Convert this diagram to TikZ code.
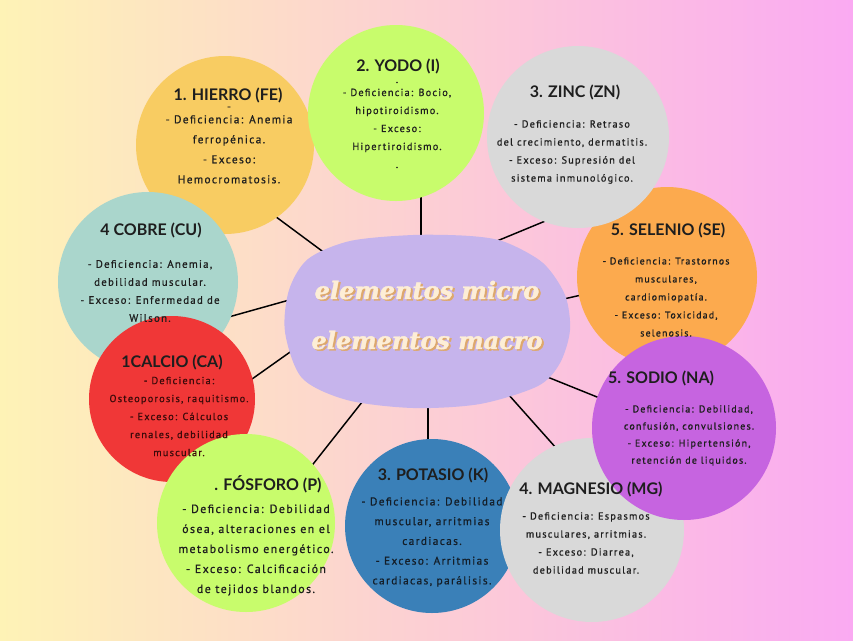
\documentclass[tikz,border=0pt]{standalone}
\usepackage{fontspec}
\newfontfamily\titulofont{Lato}
\newfontfamily\textofont[LetterSpace=12,FakeBold=0.8]{PT Sans}
\newfontfamily\centrofont[FakeBold=1.6]{DejaVu Serif}

\definecolor{fondoA}{RGB}{254,243,182}
\definecolor{fondoB}{RGB}{253,200,212}
\definecolor{fondoC}{RGB}{250,170,242}
\definecolor{tinta}{RGB}{30,30,30}
\definecolor{hierroC}{RGB}{248,204,98}
\definecolor{limaC}{RGB}{200,252,108}
\definecolor{grisC}{RGB}{217,217,217}
\definecolor{cobreC}{RGB}{170,214,204}
\definecolor{selenioC}{RGB}{252,170,78}
\definecolor{calcioC}{RGB}{240,55,55}
\definecolor{sodioC}{RGB}{198,100,224}
\definecolor{potasioC}{RGB}{58,128,184}
\definecolor{blobC}{RGB}{198,180,236}
\definecolor{crema}{RGB}{253,238,214}
\definecolor{sombra}{RGB}{222,168,108}

\begin{document}
\begin{tikzpicture}[x=0.75pt,y=-0.75pt,
  circ/.style={circle,inner sep=0pt,minimum size=#1*1.5pt},
  titulo/.style={font=\titulofont\bfseries\fontsize{12}{13}\selectfont,text=tinta},
  texto/.style={font=\textofont\fontsize{7.7}{13.5}\selectfont,text=tinta,align=center},
  centrotxt/.style={font=\centrofont\bfseries\itshape\fontsize{18}{37.5}\selectfont,align=center},
  enlace/.style={line width=1.1pt,black}]

\useasboundingbox (0,0) rectangle (853,640);
\shade[left color=fondoA,middle color=fondoB,right color=fondoC] (0,0) rectangle (853,640);

% enlaces
\coordinate (hierro-e) at (260,205);  \coordinate (c-hierro) at (345,268);
\coordinate (yodo-e) at (421,185);    \coordinate (c-yodo) at (421,250);
\coordinate (zinc-e) at (555,217);    \coordinate (c-zinc) at (480,248);
\coordinate (cobre-e) at (225,318);   \coordinate (c-cobre) at (300,297);
\coordinate (selenio-e) at (590,293); \coordinate (c-selenio) at (555,301);
\coordinate (calcio-e) at (245,384);  \coordinate (c-calcio) at (300,345);
\coordinate (sodio-e) at (612,403);   \coordinate (c-sodio) at (535,372);
\coordinate (fosforo-e) at (310,468); \coordinate (c-fosforo) at (370,392);
\coordinate (potasio-e) at (428,452); \coordinate (c-potasio) at (428,400);
\coordinate (magnesio-e) at (565,458);\coordinate (c-magnesio) at (500,385);
\foreach \e in {hierro,yodo,zinc,cobre,selenio,calcio,sodio,fosforo,potasio,magnesio}
  \draw[enlace] (\e-e) -- (c-\e);

\fill[blobC] plot[smooth cycle] coordinates {(285,332) (289,290) (308,259) (350,241) (413,235) (470,236) (505,242) (543,263) (565,295) (570,330) (560,363) (538,386) (480,404) (413,408) (347,400) (302,378)};
\node[centrotxt,text=sombra] at (429,316.5) {elementos micro\\elementos macro};
\node[centrotxt,text=crema] (centro) at (427,315) {elementos micro\\elementos macro};

% circulos
\node[circ=87,fill=potasioC] (potasio) at (432,526) {};
\node[titulo] (potasio-t) at (433,475) {3. POTASIO (K)};
\node[texto,text={rgb,255:red,20;green,30;blue,40},font=\textofont\fontsize{8.5}{14.8}\selectfont] (potasio-b) at (432,542)
  {- Deficiencia: Debilidad\\ muscular, arritmias\\ cardiacas.\\ - Exceso: Arritmias\\ cardiacas, parálisis.};
\node[circ=89,fill=hierroC] (hierro) at (225,145) {};
\node[circ=88,fill=limaC] (yodo) at (396,113) {};
\node[circ=90,fill=selenioC] (selenio) at (667,277) {};
\node[circ=91,fill=grisC] (zinc) at (578,137) {};
\node[circ=90,fill=cobreC] (cobre) at (148,282) {};
\node[circ=83,fill=calcioC] (calcio) at (172,399) {};
\node[circ=89,fill=limaC] (fosforo) at (246,523) {};
\node[circ=92,fill=grisC] (magnesio) at (592,530) {};
\node[circ=92,fill=sodioC] (sodio) at (684,428) {};

% textos
\node[titulo] (hierro-t) at (228,95) {1. HIERRO (FE)};
\node[texto,font=\textofont\fontsize{8.5}{15}\selectfont] (hierro-b) at (229,145)
  {-\\[-5.25pt] - Deficiencia: Anemia\\ ferropénica.\\ - Exceso:\\ Hemocromatosis.};
\node[titulo] (yodo-t) at (398,66) {2. YODO (I)};
\node[texto] (yodo-b) at (397,125)
  {.\\[-3.75pt] - Deficiencia: Bocio,\\ hipotiroidismo.\\ - Exceso:\\ Hipertiroidismo.\\ .};
\node[titulo] (zinc-t) at (575,92) {3. ZINC (ZN)};
\node[texto] (zinc-b) at (572,152)
  {- Deficiencia: Retraso\\ del crecimiento, dermatitis.\\ - Exceso: Supresión del\\ sistema inmunológico.};
\node[titulo] (cobre-t) at (151,230) {4 COBRE (CU)};
\node[texto,font=\textofont\fontsize{8.1}{13.5}\selectfont] (cobre-b) at (150,291)
  {- Deficiencia: Anemia,\\ debilidad muscular.\\ - Exceso: Enfermedad de\\ Wilson.};
\node[titulo] (selenio-t) at (668,230) {5. SELENIO (SE)};
\node[texto,font=\textofont\fontsize{7.4}{13.5}\selectfont] (selenio-b) at (666,297)
  {- Deficiencia: Trastornos\\ musculares,\\ cardiomiopatía.\\ - Exceso: Toxicidad,\\ selenosis.};
\node[titulo] (calcio-t) at (172,362) {1CALCIO (CA)};
\node[texto,text={rgb,255:red,60;green,10;blue,10}] (calcio-b) at (179,416.5)
  {- Deficiencia:\\ Osteoporosis, raquitismo.\\ - Exceso: Cálculos\\ renales, debilidad\\ muscular.};
\node[titulo] (sodio-t) at (661,378) {5. SODIO (NA)};
\node[texto,font=\textofont\fontsize{7.5}{12.8}\selectfont] (sodio-b) at (689,435.5)
  {- Deficiencia: Debilidad,\\ confusión, convulsiones.\\ - Exceso: Hipertensión,\\ retención de liquidos.};
\node[titulo] (fosforo-t) at (268,484) {. FÓSFORO (P)};
\node[texto,font=\textofont\fontsize{8.9}{15}\selectfont] (fosforo-b) at (256,550)
  {- Deficiencia: Debilidad\\ ósea, alteraciones en el\\ metabolismo energético.\\ - Exceso: Calcificación\\ de tejidos blandos.};
\node[titulo] (magnesio-t) at (591,489) {4. MAGNESIO (MG)};
\node[texto] (magnesio-b) at (586,543)
  {- Deficiencia: Espasmos\\ musculares, arritmias.\\ - Exceso: Diarrea,\\ debilidad muscular.};
\end{tikzpicture}
\end{document}
